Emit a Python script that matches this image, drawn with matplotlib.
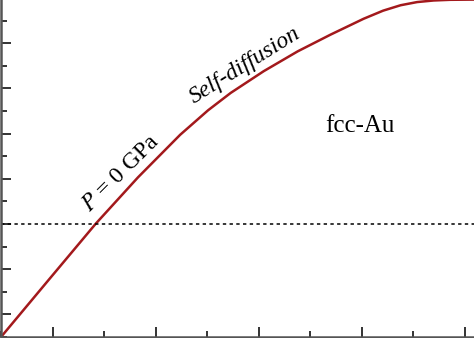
import matplotlib
matplotlib.use("Agg")
import matplotlib.pyplot as plt
from matplotlib.ticker import MultipleLocator

plt.rcParams['font.family'] = ['Liberation Serif', 'DejaVu Serif']
plt.rcParams['mathtext.fontset'] = 'stix'

# curve
curve_x = [0.50, 0.96, 1.42, 1.83, 2.24, 2.51, 2.73, 3.05, 3.38, 3.70,
           4.02, 4.21, 4.38, 4.54, 4.70, 4.86, 5.10]
curve_y = [-0.50, 0.756, 2.007, 3.032, 3.975, 4.515, 4.900, 5.380, 5.819,
           6.19, 6.54, 6.72, 6.84, 6.91, 6.945, 6.96, 6.965]
ref_level = 2.0

fig = plt.figure(figsize=(4.74, 3.38), dpi=100)
ax = fig.add_axes([1 / 474, 1 / 338, 1 - 1 / 474, 1 - 1 / 338])

ax.plot(curve_x, curve_y, color='#a3191c', lw=1.8, solid_joinstyle='round')
ax.axhline(ref_level, color='black', lw=1.1, linestyle=(0, (2.2, 2.2)))

ax.text(1.66, 3.12, '$P$ = 0 GPa', fontsize=17, rotation=45,
        ha='center', va='center', rotation_mode='anchor')
ax.text(2.87, 5.50, 'Self-diffusion', fontsize=17, style='italic',
        rotation=32, ha='center', va='center', rotation_mode='anchor')
ax.text(3.98, 4.17, 'fcc-Au', fontsize=18, ha='center', va='center')

ax.set_xlim(0.5, 0.5 + 473 / 103)
ax.set_ylim(-0.5, -0.5 + 337 / 45.2)

ax.xaxis.set_major_locator(MultipleLocator(1))
ax.xaxis.set_minor_locator(MultipleLocator(0.5))
ax.yaxis.set_major_locator(MultipleLocator(1))
ax.yaxis.set_minor_locator(MultipleLocator(0.5))
ax.tick_params(which='both', direction='in', labelbottom=False,
               labelleft=False, color='#333333', width=1.4)
ax.tick_params(which='major', length=7)
ax.tick_params(which='minor', length=4.3)

for side in ['top', 'right']:
    ax.spines[side].set_visible(False)
for side in ['left', 'bottom']:
    ax.spines[side].set_color('#555555')
    ax.spines[side].set_linewidth(1.8)

fig.savefig('out.png', dpi=100)
